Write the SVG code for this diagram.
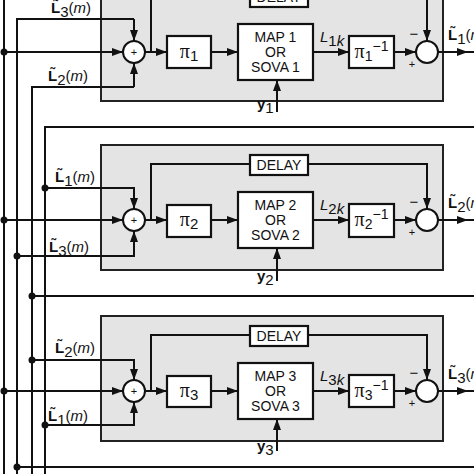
<svg xmlns="http://www.w3.org/2000/svg" width="474" height="474" viewBox="0 0 474 474">
<defs>
<marker id="ah" markerUnits="userSpaceOnUse" markerWidth="11" markerHeight="8" refX="11" refY="4" orient="auto">
<path d="M0,0 L11,4 L0,8 Z" fill="#111"/>
</marker>
<style>
.gray{fill:#e4e4e4;stroke:#222;stroke-width:2}
.box{fill:#fff;stroke:#111;stroke-width:2.2}
.circ{fill:#fff;stroke:#111;stroke-width:2}
.ln{fill:none;stroke:#111;stroke-width:2}
.ar{fill:none;stroke:#111;stroke-width:2;marker-end:url(#ah)}
.dot{fill:#111}
text{font-family:"Liberation Sans",Arial,sans-serif;fill:#111}
.t14{font-size:14px}
.t15{font-size:15px}
.mid{text-anchor:middle}
.pi{font-family:"Liberation Serif","Times New Roman",serif;font-size:20px}
.sm{font-size:11px}
.b{font-weight:bold}
.i{font-style:italic}
</style>
</defs>

<!-- gray decoder backgrounds -->
<g id="dec1-bg"><rect class="gray" x="101" y="-23" width="342" height="124"/></g>
<g id="dec2-bg"><rect class="gray" x="101" y="145" width="342" height="125"/></g>
<g id="dec3-bg"><rect class="gray" x="101" y="316" width="342" height="125"/></g>

<g id="connectors">
<line class="ln" x1="4" y1="0" x2="4" y2="474"/>
<polyline class="ln" points="134,19 17,19 17,474"/>
<polyline class="ln" points="134,87 32,87 32,474"/>
<polyline class="ln" points="474,127 45,127 45,474"/>
<line class="ln" x1="32" y1="296" x2="474" y2="296"/>
<line class="ln" x1="17" y1="467" x2="474" y2="467"/>

<line class="ar" x1="4" y1="52" x2="123" y2="52"/>
<line class="ar" x1="134" y1="19" x2="134" y2="41"/>
<line class="ar" x1="134" y1="87" x2="134" y2="63"/>
<polyline class="ln" points="151,52 151,-3 250,-3"/>
<polyline class="ar" points="308,-3 427,-3 427,41"/>
<line class="ar" x1="145" y1="52" x2="167" y2="52"/>
<line class="ar" x1="211" y1="52" x2="238" y2="52"/>
<line class="ar" x1="313" y1="52" x2="349" y2="52"/>
<line class="ar" x1="394" y1="52" x2="416" y2="52"/>
<line class="ar" x1="438" y1="52" x2="468" y2="52"/>
<line class="ln" x1="466" y1="52" x2="474" y2="52"/>
<line class="ar" x1="277" y1="112" x2="277" y2="80"/>

<line class="ar" x1="4" y1="220" x2="123" y2="220"/>
<polyline class="ar" points="45,188 134,188 134,209"/>
<polyline class="ar" points="17,256 134,256 134,231"/>
<polyline class="ln" points="151,220 151,164 250,164"/>
<polyline class="ar" points="308,164 427,164 427,209"/>
<line class="ar" x1="145" y1="220" x2="167" y2="220"/>
<line class="ar" x1="211" y1="220" x2="238" y2="220"/>
<line class="ar" x1="313" y1="220" x2="349" y2="220"/>
<line class="ar" x1="394" y1="220" x2="416" y2="220"/>
<line class="ar" x1="438" y1="220" x2="468" y2="220"/>
<line class="ln" x1="466" y1="220" x2="474" y2="220"/>
<line class="ar" x1="277" y1="281" x2="277" y2="248"/>

<line class="ar" x1="4" y1="391" x2="123" y2="391"/>
<polyline class="ar" points="32,360 134,360 134,380"/>
<polyline class="ar" points="45,425 134,425 134,402"/>
<polyline class="ln" points="151,391 151,335 250,335"/>
<polyline class="ar" points="308,335 427,335 427,380"/>
<line class="ar" x1="145" y1="391" x2="167" y2="391"/>
<line class="ar" x1="211" y1="391" x2="238" y2="391"/>
<line class="ar" x1="313" y1="391" x2="349" y2="391"/>
<line class="ar" x1="394" y1="391" x2="416" y2="391"/>
<line class="ar" x1="438" y1="391" x2="468" y2="391"/>
<line class="ln" x1="466" y1="391" x2="474" y2="391"/>
<line class="ar" x1="277" y1="451" x2="277" y2="419"/>

<circle class="dot" cx="4" cy="52" r="3.5"/>
<circle class="dot" cx="4" cy="220" r="3.5"/>
<circle class="dot" cx="4" cy="391" r="3.5"/>
<circle class="dot" cx="45" cy="188" r="3.5"/>
<circle class="dot" cx="17" cy="256" r="3.5"/>
<circle class="dot" cx="32" cy="296" r="3.5"/>
<circle class="dot" cx="32" cy="360" r="3.5"/>
<circle class="dot" cx="45" cy="425" r="3.5"/>
<circle class="dot" cx="17" cy="467" r="3.5"/>
</g>

<g id="sum1"><circle class="circ" cx="134" cy="52" r="11"/><text class="sm mid" x="134" y="56">+</text></g>
<g id="delay1"><rect class="box" x="250" y="-13" width="58" height="20"/><text class="t14 mid" x="279" y="2">DELAY</text></g>
<g id="pi1"><rect class="box" x="167" y="36" width="44" height="32"/><text x="189" y="58" class="mid"><tspan class="pi">π</tspan><tspan class="t15" dy="3">1</tspan></text></g>
<g id="map1"><rect class="box" x="238" y="24" width="75" height="56"/><text class="t14 mid" x="275.5" y="42">MAP 1</text><text class="t14 mid" x="275.5" y="57">OR</text><text class="t14 mid" x="275.5" y="72">SOVA 1</text></g>
<g id="pinv1"><rect class="box" x="349" y="36" width="45" height="32"/><text x="371.5" y="58" class="mid"><tspan class="pi">π</tspan><tspan class="t14" dy="3">1</tspan><tspan class="t14" dy="-10">−1</tspan></text></g>
<g id="sub1"><circle class="circ" cx="427" cy="52" r="11"/></g>

<g id="sum2"><circle class="circ" cx="134" cy="220" r="11"/><text class="sm mid" x="134" y="224">+</text></g>
<g id="delay2"><rect class="box" x="250" y="155" width="58" height="20"/><text class="t14 mid" x="279" y="170">DELAY</text></g>
<g id="pi2"><rect class="box" x="167" y="205" width="44" height="32"/><text x="189" y="226" class="mid"><tspan class="pi">π</tspan><tspan class="t15" dy="3">2</tspan></text></g>
<g id="map2"><rect class="box" x="238" y="192" width="75" height="56"/><text class="t14 mid" x="275.5" y="210">MAP 2</text><text class="t14 mid" x="275.5" y="225">OR</text><text class="t14 mid" x="275.5" y="240">SOVA 2</text></g>
<g id="pinv2"><rect class="box" x="349" y="204" width="45" height="33"/><text x="371.5" y="226" class="mid"><tspan class="pi">π</tspan><tspan class="t14" dy="3">2</tspan><tspan class="t14" dy="-10">−1</tspan></text></g>
<g id="sub2"><circle class="circ" cx="427" cy="220" r="11"/></g>

<g id="sum3"><circle class="circ" cx="134" cy="391" r="11"/><text class="sm mid" x="134" y="395">+</text></g>
<g id="delay3"><rect class="box" x="250" y="326" width="58" height="20"/><text class="t14 mid" x="279" y="341">DELAY</text></g>
<g id="pi3"><rect class="box" x="167" y="376" width="44" height="31"/><text x="189" y="397" class="mid"><tspan class="pi">π</tspan><tspan class="t15" dy="3">3</tspan></text></g>
<g id="map3"><rect class="box" x="238" y="363" width="75" height="56"/><text class="t14 mid" x="275.5" y="381">MAP 3</text><text class="t14 mid" x="275.5" y="396">OR</text><text class="t14 mid" x="275.5" y="411">SOVA 3</text></g>
<g id="pinv3"><rect class="box" x="349" y="375" width="45" height="32"/><text x="371.5" y="397" class="mid"><tspan class="pi">π</tspan><tspan class="t14" dy="3">3</tspan><tspan class="t14" dy="-10">−1</tspan></text></g>
<g id="sub3"><circle class="circ" cx="427" cy="391" r="11"/></g>

<g id="labels">
<text class="t15" x="51" y="13"><tspan class="b">L̃</tspan><tspan dy="4">3</tspan><tspan dy="-4">(</tspan><tspan class="i">m</tspan>)</text>
<text class="t15" x="48" y="81"><tspan class="b">L̃</tspan><tspan dy="4">2</tspan><tspan dy="-4">(</tspan><tspan class="i">m</tspan>)</text>
<text class="t15" x="55" y="182"><tspan class="b">L̃</tspan><tspan dy="4">1</tspan><tspan dy="-4">(</tspan><tspan class="i">m</tspan>)</text>
<text class="t15" x="49" y="252"><tspan class="b">L̃</tspan><tspan dy="4">3</tspan><tspan dy="-4">(</tspan><tspan class="i">m</tspan>)</text>
<text class="t15" x="55" y="353"><tspan class="b">L̃</tspan><tspan dy="4">2</tspan><tspan dy="-4">(</tspan><tspan class="i">m</tspan>)</text>
<text class="t15" x="48" y="421"><tspan class="b">L̃</tspan><tspan dy="4">1</tspan><tspan dy="-4">(</tspan><tspan class="i">m</tspan>)</text>

<text class="t15" x="448" y="40"><tspan class="b">L̃</tspan><tspan dy="4">1</tspan><tspan dy="-4">(</tspan><tspan class="i">m</tspan>)</text>
<text class="t15" x="448" y="208"><tspan class="b">L̃</tspan><tspan dy="4">2</tspan><tspan dy="-4">(</tspan><tspan class="i">m</tspan>)</text>
<text class="t15" x="448" y="379"><tspan class="b">L̃</tspan><tspan dy="4">3</tspan><tspan dy="-4">(</tspan><tspan class="i">m</tspan>)</text>

<text class="t15" x="320" y="42"><tspan class="i">L</tspan><tspan dy="4">1</tspan><tspan class="i">k</tspan></text>
<text class="t15" x="320" y="210"><tspan class="i">L</tspan><tspan dy="4">2</tspan><tspan class="i">k</tspan></text>
<text class="t15" x="320" y="381"><tspan class="i">L</tspan><tspan dy="4">3</tspan><tspan class="i">k</tspan></text>

<text class="t15" x="257" y="109"><tspan class="b">y</tspan><tspan dy="4">1</tspan></text>
<text class="t15" x="257" y="281"><tspan class="b">y</tspan><tspan dy="4">2</tspan></text>
<text class="t15" x="257" y="451"><tspan class="b">y</tspan><tspan dy="4">3</tspan></text>

<text class="t15 mid" x="414" y="39">−</text>
<text class="sm mid" x="412" y="68">+</text>
<text class="t15 mid" x="414" y="207">−</text>
<text class="sm mid" x="412" y="236">+</text>
<text class="t15 mid" x="414" y="378">−</text>
<text class="sm mid" x="412" y="407">+</text>
</g>
</svg>
